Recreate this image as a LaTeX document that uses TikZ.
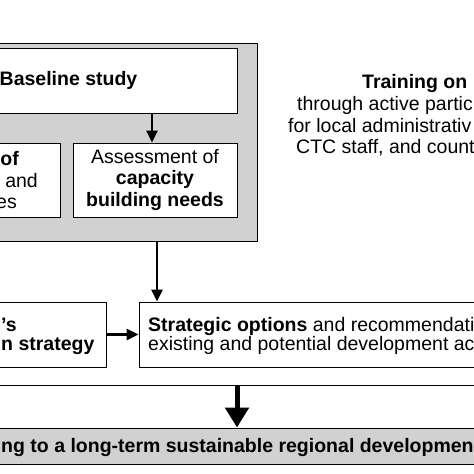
\documentclass[tikz,border=0pt]{standalone}
\usepackage{fontspec}
\setmainfont{Liberation Sans}
\usetikzlibrary{arrows.meta}
\definecolor{panel}{gray}{0.82}
\tikzset{
  box/.style={draw, fill=white, line width=0.9pt, inner sep=0pt, align=center},
  arr/.style={-{Triangle[width=11pt,length=12pt]}, line width=2.4pt},
  bigarr/.style={-{Triangle[width=23pt,length=20pt]}, line width=5pt},
  txt/.style={inner sep=0pt, anchor=base west},
  txtr/.style={inner sep=0pt, anchor=base east}
}
\begin{document}
\begin{tikzpicture}[x=1pt,y=-1pt,font=\fontsize{19.5}{21.5}\selectfont]
      \useasboundingbox (0,0) rectangle (474,474);
      \clip (0,0) rectangle (474,474);
      \draw
        (57,142) node[draw, fill=panel, line width=1pt, inner sep=0pt,
          minimum width=400pt, minimum height=198pt] (frame){}
        (68.5,80.5) node[box, minimum width=337pt, minimum height=65pt] (baseline){\textbf{Baseline study}}
        (-20,180) node[box, minimum width=160pt, minimum height=74pt] (resources){}
        (155,180) node[box, minimum width=164pt, minimum height=74pt] (assess){Assessment of\\\textbf{capacity}\\\textbf{building needs}}
        (3,334.5) node[box, minimum width=206pt, minimum height=65pt] (plan){}
        (419.5,334.5) node[box, minimum width=561pt, minimum height=65pt] (strat){}
        (237,446) node[box, fill=panel, minimum width=574pt, minimum height=36pt] (goal){};
      % texts cut at the edges
      \node[txtr] (res1) at (19,165) {\textbf{of}};
      \node[txtr] (res2) at (38,187) {and};
      \node[txtr] (res3) at (17,208) {es};
      \node[txt] (plan1) at (1,331) {\textbf{'s}};
      \node[txt] (plan2) at (1,350) {\textbf{n strategy}};
      \node[txt] (strat1) at (148,331) {\textbf{Strategic options} and recommendati};
      \node[txt] (strat2) at (148,350) {existing and potential development ac};
      \node[txt] (goal1) at (1,452) {\textbf{ng to a long-term sustainable regional developmen}};
      \node[txt] (train1) at (362,88) {\textbf{Training on}};
      \node[txt] (train2) at (297,110) {through active partic};
      \node[txt] (train3) at (288,132) {for local administrativ};
      \node[txt] (train4) at (296,153) {CTC staff, and count};
      \coordinate (a1) at (152,0);
      \coordinate (a2) at (157,0);
      \coordinate (rule) at (237,385);
      \begin{scope}[-]
        \draw[arr] (baseline.south -| a1) to (assess.north -| a1);
        \draw[arr] (frame.south -| a2) to (strat.north -| a2);
        \draw[arr] (plan.east) to (strat.west);
        \draw[line width=1pt] (0,385) to (474,385);
        \draw[bigarr] (rule) to (goal.north);
      \end{scope}
    \end{tikzpicture}
\end{document}
